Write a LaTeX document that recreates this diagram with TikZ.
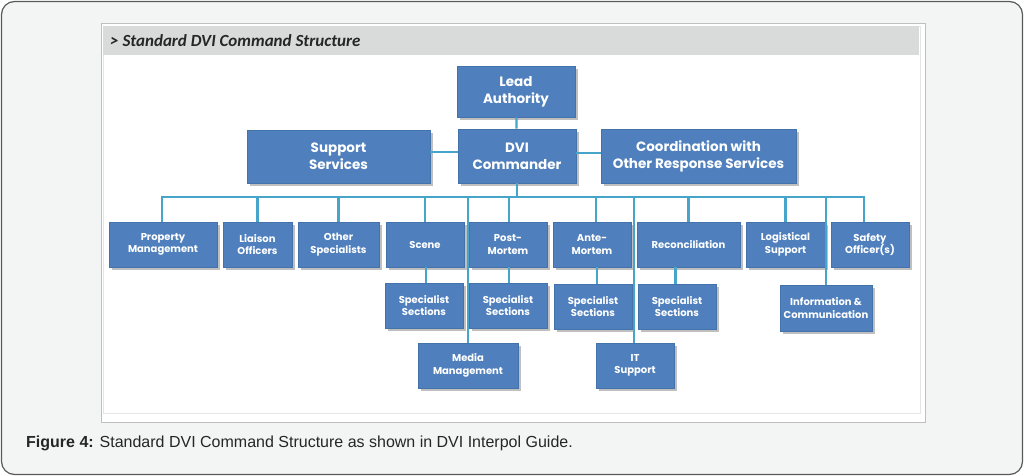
\documentclass[tikz,border=0pt]{standalone}
\usepackage{fontspec}
\setmainfont{Liberation Sans}
\newfontfamily\boxfont{Poppins}
\newfontfamily\titlefont{Carlito}
\usetikzlibrary{shadows}
\definecolor{boxblue}{HTML}{4F80BD}
\definecolor{boxedge}{HTML}{4472AA}
\definecolor{linkblue}{HTML}{46A5C9}
\definecolor{framebg}{HTML}{F3F4F4}
\definecolor{headbar}{HTML}{D9DADA}
\tikzset{
  orgbox/.style={rectangle, fill=boxblue, draw=boxedge, line width=0.6pt, text=white,
    align=center, inner sep=0pt,
    drop shadow={shadow xshift=2.5pt, shadow yshift=-3pt, fill=black!50, opacity=0.5}},
  bigtxt/.style={font=\boxfont\bfseries\fontsize{13.5}{17}\selectfont},
  smalltxt/.style={font=\boxfont\bfseries\fontsize{10}{12.5}\selectfont},
  link/.style={draw=linkblue, line width=2.2pt},
}
\begin{document}
\begin{tikzpicture}[x=1pt,y=-1pt]
\useasboundingbox (0,0) rectangle (1025,476);
% outer frame
\draw[fill=framebg, draw=black!65, line width=1.2pt, rounded corners=13pt] (1.5,1.5) rectangle (1022.5,474.5);
% screenshot
\draw[fill=white, draw=black!25, line width=0.8pt] (101,23) rectangle (925,422);
\draw[draw=black!10, line width=0.8pt] (103,26) rectangle (920,413);
\fill[headbar] (103,26) rectangle (919,55);
\node[anchor=base west, inner sep=0pt, font=\titlefont\bfseries\itshape\fontsize{17}{20}\selectfont, text=black!85] (title) at (110,47) {> Standard DVI Command Structure};

% top level
\node[orgbox, bigtxt, minimum width=118pt, minimum height=51pt] (lead) at (516,91.5) {Lead\\Authority};
\node[orgbox, bigtxt, minimum width=118pt, minimum height=54pt] (dvi) at (517,156) {DVI\\Commander};
\node[orgbox, bigtxt, minimum width=183pt, minimum height=53pt] (sup) at (338.5,156.5) {Support\\Services};
\node[orgbox, bigtxt, minimum width=195pt, minimum height=54pt] (coord) at (698.5,156) {Coordination with\\Other Response Services};

% row
\node[orgbox, smalltxt, minimum width=108pt, minimum height=45pt] (prop) at (163,244.5) {Property\\Management};
\node[orgbox, smalltxt, minimum width=69pt, minimum height=45pt] (liai) at (257.5,244.5) {Liaison\\Officers};
\node[orgbox, smalltxt, minimum width=81pt, minimum height=45pt] (oth) at (338.5,244.5) {Other\\Specialists};
\node[orgbox, smalltxt, minimum width=78pt, minimum height=45pt] (scene) at (425,244.5) {Scene};
\node[orgbox, smalltxt, minimum width=78pt, minimum height=45pt] (post) at (508,244.5) {Post-\\Mortem};
\node[orgbox, smalltxt, minimum width=78pt, minimum height=45pt] (ante) at (592,244.5) {Ante-\\Mortem};
\node[orgbox, smalltxt, minimum width=103pt, minimum height=45pt] (recon) at (688.5,244.5) {Reconciliation};
\node[orgbox, smalltxt, minimum width=79pt, minimum height=45pt] (logi) at (785.5,244.5) {Logistical\\Support};
\node[orgbox, smalltxt, minimum width=78pt, minimum height=45pt] (safe) at (870,244.5) {Safety\\Officer(s)};

% second row
\node[orgbox, smalltxt, minimum width=78pt, minimum height=45pt] (ss1) at (424,305.5) {Specialist\\Sections};
\node[orgbox, smalltxt, minimum width=78pt, minimum height=45pt] (ss2) at (508,305.5) {Specialist\\Sections};
\node[orgbox, smalltxt, minimum width=78pt, minimum height=45pt] (ss3) at (593,306.5) {Specialist\\Sections};
\node[orgbox, smalltxt, minimum width=78pt, minimum height=45pt] (ss4) at (677,306.5) {Specialist\\Sections};
\node[orgbox, smalltxt, minimum width=92pt, minimum height=46pt] (info) at (826,308) {Information \&\\Communication};

% third row
\node[orgbox, smalltxt, minimum width=100pt, minimum height=45pt] (media) at (468,365.5) {Media\\Management};
\node[orgbox, smalltxt, minimum width=78pt, minimum height=45pt] (it) at (635,365.5) {IT\\Support};

% connectors
\coordinate (busL) at (162,197);
\coordinate (busR) at (864,197);
\draw[link, line cap=rect] (busL) -- (busR);
\draw[link] (lead) -- (dvi);
\draw[link] (dvi.west |- 0,152) -- (sup.east |- 0,152);
\draw[link] (dvi.east |- 0,153) -- (coord.west |- 0,153);
\draw[link] (dvi.south) -- (dvi.south |- busL);
\draw[link] (busL) -- (busL |- prop.north);
\draw[link] (liai.north) -- (liai.north |- busL);
\draw[link] (oth.north) -- (oth.north |- busL);
\draw[link] (scene.north) -- (scene.north |- busL);
\draw[link] ([xshift=1pt]post.north) -- ([xshift=1pt]post.north |- busL);
\draw[link] ([xshift=4pt]ante.north) -- ([xshift=4pt]ante.north |- busL);
\draw[link] (recon.north) -- (recon.north |- busL);
\draw[link] (logi.north) -- (logi.north |- busL);
\draw[link] (busR) -- (busR |- safe.north);
\draw[link] (media.north) -- (media.north |- busL);
\draw[link] ([xshift=-1pt]it.north) -- ([xshift=-1pt]it.north |- busL);
\draw[link] (info.north) -- (info.north |- busL);
\draw[link] ([xshift=1pt]scene.south) -- ([xshift=1pt]scene.south |- ss1.north);
\draw[link] ([xshift=1pt]post.south) -- ([xshift=1pt]post.south |- ss2.north);
\draw[link] ([xshift=5pt]ante.south) -- ([xshift=5pt]ante.south |- ss3.north);
\draw[link] ([xshift=-13pt]recon.south) -- ([xshift=-13pt]recon.south |- ss4.north);

% caption
\node[anchor=base west, inner sep=0pt, font=\fontsize{16}{19}\selectfont, text=black!85] (cap) at (26,447)
  {\textbf{Figure 4:} Standard DVI Command Structure as shown in DVI Interpol Guide.};
\end{tikzpicture}
\end{document}
